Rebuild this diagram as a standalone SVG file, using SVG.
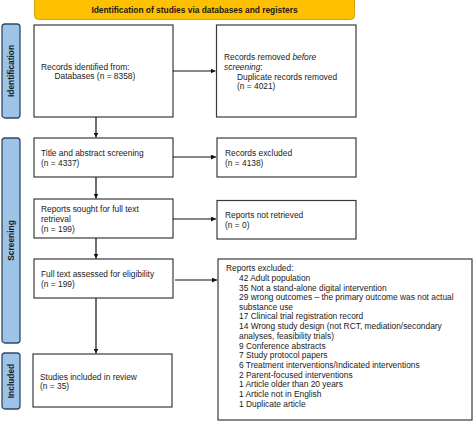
<svg xmlns="http://www.w3.org/2000/svg" width="474" height="421" viewBox="0 0 474 421">
<defs>
<style>
.box{fill:#fff;stroke:#3a3a3a;stroke-width:1.2}
.side{fill:#9dc3e6;stroke:#2e4a66;stroke-width:1.3}
.banner{fill:#ffc000;stroke:#d4a017;stroke-width:1}
.t{font-family:"Liberation Sans",Arial,sans-serif;font-size:8.4px;fill:#1a1a1a}
.b{font-family:"Liberation Sans",Arial,sans-serif;font-size:8.4px;font-weight:bold;fill:#1a1a1a}
.c{stroke:#111;stroke-width:1.2;fill:none;marker-end:url(#ah)}
</style>
<marker id="ah" viewBox="0 0 10 10" refX="10" refY="5" markerWidth="5" markerHeight="5" markerUnits="userSpaceOnUse" orient="auto">
<path d="M0,0 L10,5 L0,10 z" fill="#111"/>
</marker>
</defs>
<rect width="474" height="421" fill="#fff"/>
<g id="banner">
<rect class="banner" x="34.5" y="-6" width="320" height="25.5" rx="4"/>
<text class="b" x="194.5" y="13" text-anchor="middle">Identification of studies via databases and registers</text>
</g>
<g id="side-identification">
<rect class="side" x="2" y="24" width="18" height="94" rx="3"/>
<text class="b" transform="translate(14.2,71) rotate(-90)" text-anchor="middle">Identification</text>
</g>
<g id="side-screening">
<rect class="side" x="2" y="138" width="18" height="205" rx="3"/>
<text class="b" transform="translate(14.2,240.5) rotate(-90)" text-anchor="middle">Screening</text>
</g>
<g id="side-included">
<rect class="side" x="2" y="353" width="18" height="56" rx="3"/>
<text class="b" transform="translate(14.2,381) rotate(-90)" text-anchor="middle">Included</text>
</g>
<g id="records-identified">
<rect class="box" x="34" y="25" width="139" height="92"/>
<text class="t" x="41" y="69.7">Records identified from:</text>
<text class="t" x="54.5" y="79.4">Databases (n = 8358)</text>
</g>
<g id="records-removed">
<rect class="box" x="216.5" y="25" width="139.5" height="92"/>
<text class="t" x="224" y="60.3">Records removed <tspan font-style="italic">before</tspan></text>
<text class="t" x="224" y="70"><tspan font-style="italic">screening</tspan>:</text>
<text class="t" x="237" y="79.7">Duplicate records removed</text>
<text class="t" x="237" y="89.4">(n = 4021)</text>
</g>
<g id="title-abstract">
<rect class="box" x="34" y="138" width="139" height="39"/>
<text class="t" x="41" y="156.3">Title and abstract screening</text>
<text class="t" x="41" y="166">(n = 4337)</text>
</g>
<g id="records-excluded">
<rect class="box" x="217" y="138" width="139" height="39"/>
<text class="t" x="225" y="156.3">Records excluded</text>
<text class="t" x="225" y="166">(n = 4138)</text>
</g>
<g id="reports-sought">
<rect class="box" x="34" y="199" width="139" height="39"/>
<text class="t" x="41" y="212.3">Reports sought for full text</text>
<text class="t" x="41" y="222">retrieval</text>
<text class="t" x="41" y="231.7">(n = 199)</text>
</g>
<g id="reports-not-retrieved">
<rect class="box" x="217" y="200.5" width="139" height="38.5"/>
<text class="t" x="225" y="218">Reports not retrieved</text>
<text class="t" x="225" y="228">(n = 0)</text>
</g>
<g id="full-text">
<rect class="box" x="34" y="259" width="139" height="39"/>
<text class="t" x="41" y="277.3">Full text assessed for eligibility</text>
<text class="t" x="41" y="287">(n = 199)</text>
</g>
<g id="reports-excluded">
<rect class="box" x="218" y="259" width="254" height="161"/>
<text class="t" x="226" y="271.3">Reports excluded:</text>
<text class="t" x="239" y="281">42 Adult population</text>
<text class="t" x="239" y="290.5">35 Not a stand-alone digital intervention</text>
<text class="t" x="239" y="300.1">29 wrong outcomes – the primary outcome was not actual</text>
<text class="t" x="239" y="309.7">substance use</text>
<text class="t" x="239" y="319.3">17 Clinical trial registration record</text>
<text class="t" x="239" y="329">14 Wrong study design (not RCT, mediation/secondary</text>
<text class="t" x="239" y="338.7">analyses, feasibility trials)</text>
<text class="t" x="239" y="348.5">9 Conference abstracts</text>
<text class="t" x="239" y="358.2">7 Study protocol papers</text>
<text class="t" x="239" y="367.9">6 Treatment interventions/Indicated interventions</text>
<text class="t" x="239" y="377.6">2 Parent-focused interventions</text>
<text class="t" x="239" y="387.3">1 Article older than 20 years</text>
<text class="t" x="239" y="397">1 Article not in English</text>
<text class="t" x="239" y="406.7">1 Duplicate article</text>
</g>
<g id="studies-included">
<rect class="box" x="33" y="354" width="139" height="53"/>
<text class="t" x="40" y="379.7">Studies included in review</text>
<text class="t" x="40" y="389.4">(n = 35)</text>
</g>
<g id="connectors">
<line class="c" x1="173" y1="71" x2="215.5" y2="71"/>
<line class="c" x1="96" y1="117" x2="96" y2="137.5"/>
<line class="c" x1="173" y1="157" x2="216" y2="157"/>
<line class="c" x1="96" y1="177" x2="96" y2="198.5"/>
<line class="c" x1="173" y1="219" x2="216" y2="219"/>
<line class="c" x1="96" y1="238" x2="96" y2="258.5"/>
<line class="c" x1="175" y1="280" x2="217" y2="280"/>
<line class="c" x1="96" y1="298" x2="96" y2="353.5"/>
</g>
</svg>
